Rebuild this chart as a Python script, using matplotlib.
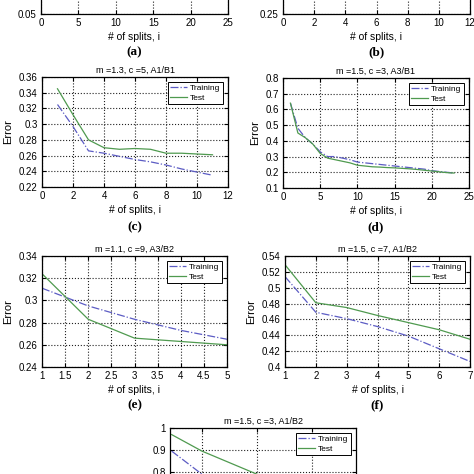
import numpy as np
import matplotlib
matplotlib.use("Agg")
import matplotlib.pyplot as plt
from matplotlib.ticker import FormatStrFormatter

plt.rcParams['font.family'] = ['Liberation Sans', 'DejaVu Sans']

# ---- datos ----
# (c) m=1.3, c=5, A1/B1
c_x = [1, 2, 3, 4, 5, 6, 7, 8, 9, 10, 11]
c_train = [0.325, 0.297, 0.266, 0.263, 0.259, 0.255, 0.252, 0.248, 0.243, 0.239, 0.235]
c_test = [0.345, 0.312, 0.280, 0.270, 0.268, 0.269, 0.268, 0.263, 0.263, 0.262, 0.261]

# (d) m=1.5, c=3, A3/B1
d_x = list(range(1, 24))
d_train = [0.64, 0.48, 0.42, 0.38, 0.33, 0.30, 0.30, 0.29, 0.28, 0.265, 0.26, 0.255,
           0.25, 0.245, 0.24, 0.235, 0.23, 0.225, 0.22, 0.21, 0.205, 0.20, 0.195]
d_test = [0.64, 0.45, 0.42, 0.38, 0.32, 0.29, 0.28, 0.27, 0.26, 0.245, 0.24, 0.235,
          0.233, 0.23, 0.228, 0.225, 0.222, 0.218, 0.213, 0.208, 0.203, 0.198, 0.195]

# (e) m=1.1, c=9, A3/B2
e_x = [1, 2, 3, 4, 5]
e_train = [0.311, 0.295, 0.283, 0.273, 0.265]
e_test = [0.324, 0.283, 0.266, 0.263, 0.260]

# (f) m=1.5, c=7, A1/B2
f_x = [1, 2, 3, 4, 5, 6, 7]
f_train = [0.514, 0.469, 0.461, 0.451, 0.439, 0.423, 0.407]
f_test = [0.529, 0.481, 0.475, 0.465, 0.456, 0.447, 0.435]

# (g) m=1.5, c=3, A1/B2 (solo se ve la parte de arriba)
g_x = [0.45, 1, 2, 3]
g_train = [0.895, 0.79, 0.68, 0.60]
g_test = [0.97, 0.895, 0.79, 0.72]

TRAIN_COLOR = '#5c5cc4'
TEST_COLOR = '#4f9a4f'

W = H = 474
fig = plt.figure(figsize=(4.74, 4.74), dpi=100)


def ejes(l, t, r, b):
    """Crea unos ejes a partir de coordenadas en píxeles (y desde arriba)."""
    ax = fig.add_axes([l / W, 1 - b / H, (r - l) / W, (b - t) / H])
    ax.grid(True, color='#222222', linestyle=':', linewidth=0.8)
    ax.tick_params(direction='in', length=3, labelsize=7, pad=3,
                   top=True, right=True)
    for s in ax.spines.values():
        s.set_linewidth(0.9)
    ax.xaxis.set_major_formatter(FormatStrFormatter('%g'))
    ax.yaxis.set_major_formatter(FormatStrFormatter('%g'))
    return ax


def leyenda(ax):
    leg = ax.legend(loc='upper right', fontsize=6, handlelength=2.0,
                    borderpad=0.3, labelspacing=0.2, handletextpad=0.4,
                    fancybox=False, framealpha=1, edgecolor='black',
                    borderaxespad=0.6)
    leg.get_frame().set_linewidth(0.7)


def letra(ax, texto, ycap):
    pos = ax.get_position()
    fig.text(pos.x0 + pos.width / 2, 1 - ycap / H, texto, ha='center', va='center',
             fontsize=9.5, fontweight='bold', family='Liberation Serif')


def panel(ax, x, tr, te, titulo, xlim, xticks, ylim, yticks):
    ax.plot(x, tr, '-.', color=TRAIN_COLOR, lw=0.9, label='Training')
    ax.plot(x, te, '-', color=TEST_COLOR, lw=0.9, label='Test')
    ax.set_xlim(*xlim)
    ax.set_xticks(xticks)
    ax.set_ylim(*ylim)
    ax.set_yticks(yticks)
    ax.set_title(titulo, fontsize=6.5, pad=3)
    leyenda(ax)


# (a) y (b): solo se ve la parte inferior
ax_a = ejes(41, -96, 228, 14)
ax_a.set_xlim(0, 25)
ax_a.set_xticks([0, 5, 10, 15, 20, 25])
ax_a.set_ylim(0.05, 0.3)
ax_a.set_yticks([0.05])
ax_a.set_xlabel('# of splits, i', fontsize=7.5, labelpad=3)
letra(ax_a, '(a)', 52)

ax_b = ejes(283, -96, 470, 14)
ax_b.set_xlim(0, 12)
ax_b.set_xticks([0, 2, 4, 6, 8, 10, 12])
ax_b.set_ylim(0.25, 0.5)
ax_b.set_yticks([0.25])
ax_b.set_xlabel('# of splits, i', fontsize=7.5, labelpad=3)
letra(ax_b, '(b)', 52)

ax_c = ejes(42, 77, 228, 187)
panel(ax_c, c_x, c_train, c_test, 'm =1.3, c =5, A1/B1', (0, 12), range(0, 13, 2),
      (0.22, 0.36), np.arange(0.22, 0.3601, 0.02))
ax_c.set_ylabel('Error', fontsize=8, labelpad=4)
ax_c.set_xlabel('# of splits, i', fontsize=7.5, labelpad=3)
letra(ax_c, '(c)', 227)

ax_d = ejes(283, 78, 469, 188)
panel(ax_d, d_x, d_train, d_test, 'm =1.5, c =3, A3/B1', (0, 25), range(0, 26, 5),
      (0.1, 0.8), np.arange(0.1, 0.801, 0.1))
ax_d.set_ylabel('Error', fontsize=8, labelpad=4)
ax_d.set_xlabel('# of splits, i', fontsize=7.5, labelpad=3)
letra(ax_d, '(d)', 227)

ax_e = ejes(42, 256, 227, 367)
panel(ax_e, e_x, e_train, e_test, 'm =1.1, c =9, A3/B2', (1, 5), np.arange(1, 5.01, 0.5),
      (0.24, 0.34), np.arange(0.24, 0.3401, 0.02))
ax_e.set_ylabel('Error', fontsize=8, labelpad=4)
ax_e.set_xlabel('# of splits, i', fontsize=7.5, labelpad=3)
letra(ax_e, '(e)', 405)

ax_f = ejes(285, 256, 470, 367)
panel(ax_f, f_x, f_train, f_test, 'm =1.5, c =7, A1/B2', (1, 7), range(1, 8),
      (0.4, 0.54), np.arange(0.4, 0.5401, 0.02))
ax_f.set_ylabel('Error', fontsize=8, labelpad=4)
ax_f.set_xlabel('# of splits, i', fontsize=7.5, labelpad=3)
letra(ax_f, '(f)', 405)

# (g): la parte baja queda fuera del recorte
ax_g = ejes(170, 428, 356, 538)
panel(ax_g, g_x, g_train, g_test, 'm =1.5, c =3, A1/B2', (0.42, 3.8), [1, 2, 3],
      (0.5, 1.0), [0.8, 0.9, 1.0])
ax_g.tick_params(labelbottom=False)

fig.savefig('out.png', dpi=100)
